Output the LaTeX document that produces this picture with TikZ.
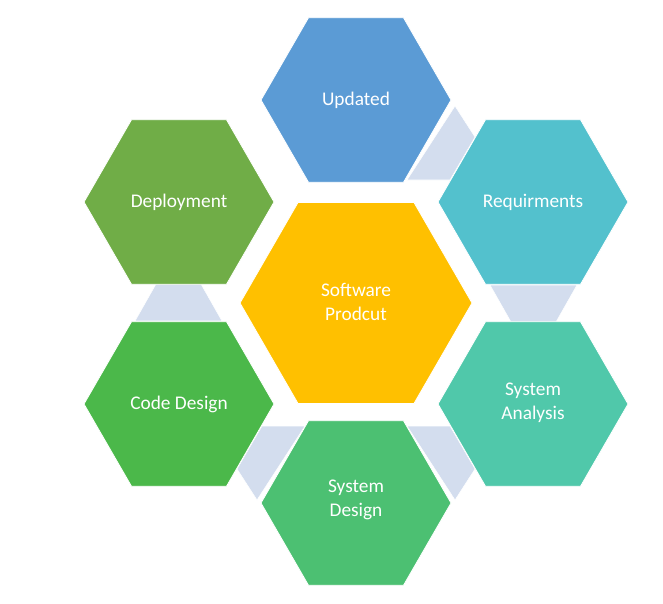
\documentclass[tikz,border=0pt]{standalone}
\usepackage{fontspec}
\setmainfont{Carlito}
\definecolor{cUpd}{HTML}{5B9BD5}
\definecolor{cReq}{HTML}{53C1CD}
\definecolor{cSA}{HTML}{50C8AA}
\definecolor{cSD}{HTML}{4CC072}
\definecolor{cCD}{HTML}{4BB84A}
\definecolor{cDep}{HTML}{70AD47}
\definecolor{cCen}{HTML}{FFC000}
\definecolor{cLink}{HTML}{D3DDEE}
\tikzset{
  hexfill/.style={fill=#1, draw=white, line width=0.6pt},
  label/.style={text=white, align=center, font=\fontsize{14.5}{18}\selectfont},
  link/.style={fill=cLink, draw=white, line width=0.4pt}
}
\newcommand{\hexagon}[5]{% name cx cy R color
  \fill[hexfill=#5] (#2+#4,#3) -- (#2+#4/2,#3+0.866*#4) -- (#2-#4/2,#3+0.866*#4)
     -- (#2-#4,#3) -- (#2-#4/2,#3-0.866*#4) -- (#2+#4/2,#3-0.866*#4) -- cycle;
  \coordinate (#1) at (#2,#3);}
\begin{document}
\begin{tikzpicture}[x=0.75pt,y=-0.75pt]
\useasboundingbox (0,0) rectangle (663,603);
% links
\fill[link] (455,106) -- (475,137) -- (450,180) -- (407,180) -- cycle;
\fill[link] (490,285) -- (577,285) -- (556,322) -- (511,322) -- cycle;
\fill[link] (455,500) -- (475,469) -- (450,426) -- (407,426) -- cycle;
\fill[link] (257,500) -- (237,469) -- (262,426) -- (305,426) -- cycle;
\fill[link] (222,321) -- (135,321) -- (156,284) -- (201,284) -- cycle;
% hexagons
\hexagon{hUpd}{356}{100}{95}{cUpd}
\hexagon{hReq}{533}{202}{95}{cReq}
\hexagon{hSA}{533}{404}{95}{cSA}
\hexagon{hSD}{356}{503}{95}{cSD}
\hexagon{hCD}{179}{404}{95}{cCD}
\hexagon{hDep}{179}{202}{95}{cDep}
\hexagon{hCen}{356}{303}{116}{cCen}
% labels
\node[label] (tUpd) at (hUpd) {Updated};
\node[label] (tReq) at (hReq) {Requirments};
\node[label] (tSA) at (533,403) {System\\Analysis};
\node[label] (tSD) at (356,500) {System\\Design};
\node[label] (tCD) at (hCD) {Code Design};
\node[label] (tDep) at (hDep) {Deployment};
\node[label] (tCen) at (356,302) {Software\\Prodcut};
\end{tikzpicture}
\end{document}
